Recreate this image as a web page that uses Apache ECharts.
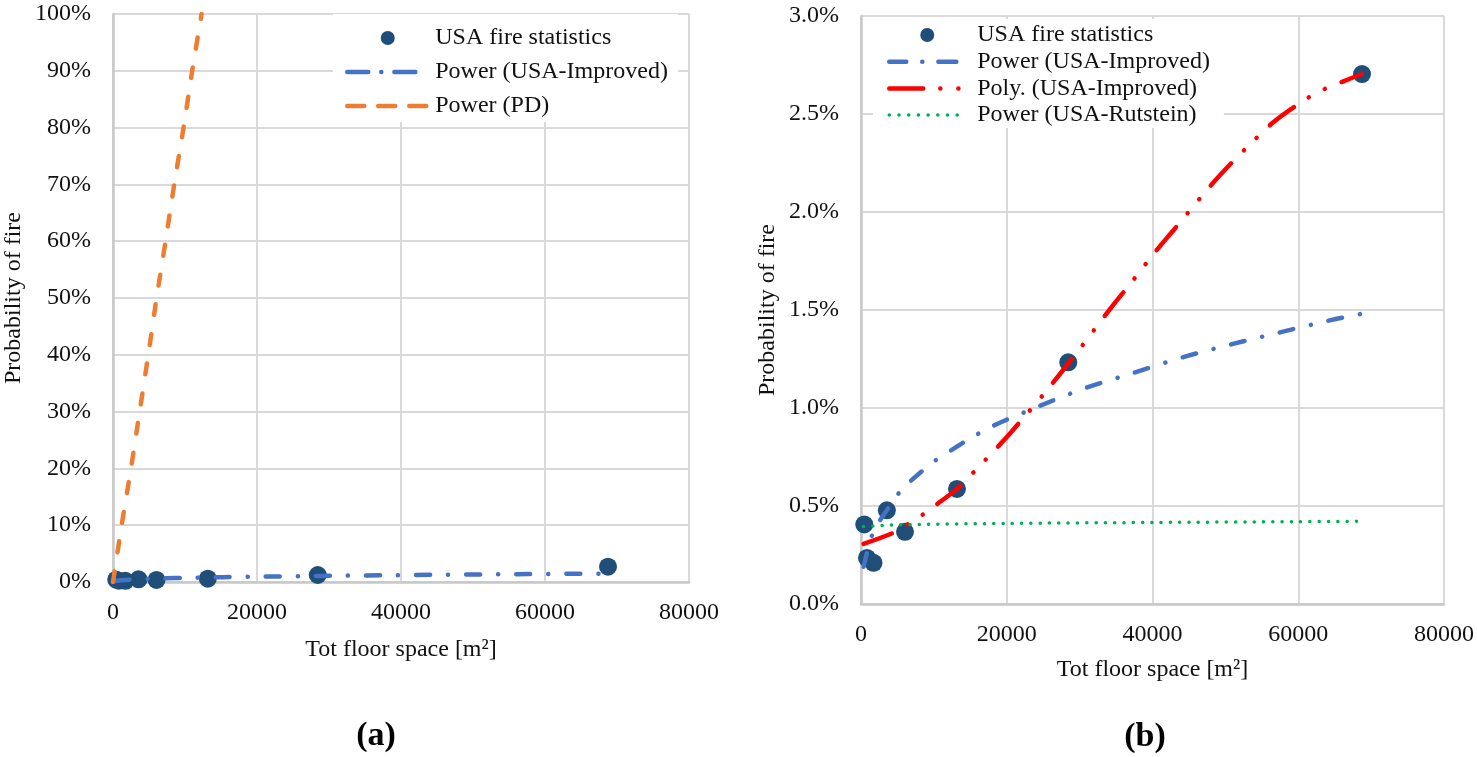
<!DOCTYPE html>
<html>
<head>
<meta charset="utf-8">
<script src="https://cdn.jsdelivr.net/npm/echarts@6/dist/echarts.min.js"></script>
<style>
html,body{margin:0;padding:0;background:#fff;}
#c{width:1477px;height:757px;}
</style>
</head>
<body>
<div id="c"></div>
<script>
// Data (x: total floor space m², y: probability of fire in %)
const fireX = [450, 820, 1720, 3545, 6040, 13170, 28440, 68750];
const fireY = [0.406, 0.235, 0.21, 0.478, 0.368, 0.587, 1.233, 2.704];

const powerImprovedX = [350, 1500, 2540, 3545, 5130, 6820, 10270, 12400, 15350, 17530, 19670, 26260, 31030, 37630, 44450, 51030, 57620, 64300, 68750];
const powerImprovedY = [0.19, 0.35, 0.423, 0.478, 0.563, 0.628, 0.734, 0.785, 0.853, 0.898, 0.935, 1.037, 1.105, 1.182, 1.262, 1.327, 1.387, 1.447, 1.481];

const polyImprovedX = [350, 4680, 6720, 8810, 10810, 13170, 16810, 18540, 20260, 21950, 24900, 29670, 34220, 37160, 40120, 43080, 47850, 50800, 53300, 56710, 60700, 62850, 68750];
const polyImprovedY = [0.307, 0.367, 0.415, 0.464, 0.52, 0.587, 0.725, 0.793, 0.862, 0.935, 1.063, 1.285, 1.507, 1.643, 1.785, 1.916, 2.129, 2.249, 2.342, 2.462, 2.567, 2.615, 2.704];

const powerRutsteinX = [350, 5000, 20000, 40000, 60000, 68750];
const powerRutsteinY = [0.395, 0.404, 0.411, 0.416, 0.42, 0.422];

const powerPDX = [0, 1200, 2500, 3700, 4900, 6050, 7300, 8500, 9800, 11000, 12300];
const powerPDY = [0, 10, 20, 30, 40, 50, 60, 70, 80, 90, 100];

const xTicks = [0, 20000, 40000, 60000, 80000];

const pairs = (xs, ys) => xs.map((x, i) => [x, ys[i]]);

const FONT = '"Liberation Serif", "Times New Roman", serif';
const TXT = '#111';
const GRIDC = '#d9d9d9';
const AXISC = '#c8c8c8';

const C_DOT = '#1f4e79';
const C_BLUE = '#4472c4';
const C_ORANGE = '#ed7d31';
const C_RED = '#ff0000';
const C_GREEN = '#00b050';

function xAxisDef(gridIndex, gap) {
  return {
    type: 'value', gridIndex, min: xTicks[0], max: xTicks[xTicks.length - 1], interval: 20000,
    name: 'Tot floor space [m²]', nameLocation: 'middle', nameGap: gap,
    nameTextStyle: { fontFamily: FONT, fontSize: 24, color: TXT },
    axisLine: { show: true, lineStyle: { color: AXISC, width: 2.5 } },
    axisTick: { show: false },
    axisLabel: { fontFamily: FONT, fontSize: 24, color: TXT, margin: 19, formatter: v => String(v) },
    splitLine: { show: true, lineStyle: { color: GRIDC, width: 2 } }
  };
}
function yAxisDef(gridIndex, max, interval, digits, gap) {
  return {
    type: 'value', gridIndex, min: 0, max, interval,
    name: 'Probability of fire', nameLocation: 'middle', nameGap: gap,
    nameTextStyle: { fontFamily: FONT, fontSize: 24, color: TXT },
    axisLine: { show: true, onZero: false, lineStyle: { color: AXISC, width: 2.5 } },
    axisTick: { show: false },
    axisLabel: { fontFamily: FONT, fontSize: 24, color: TXT, margin: 22,
      formatter: v => v.toFixed(digits) + '%' },
    splitLine: { show: true, lineStyle: { color: GRIDC, width: 2 } }
  };
}

const blueDash = [14, 18, 0.1, 18];
const redDash = [30, 18, 0.1, 18, 0.1, 18];
const greenDot = [0.1, 9.2];
const orangeDash = [11, 19];
const hiddenSym = { opacity: 0, color: 'rgba(0,0,0,0)', borderWidth: 0 };

const chart = echarts.init(document.getElementById('c'));
chart.setOption({
  animation: false,
  backgroundColor: '#fff',
  grid: [
    { left: 113, top: 14, width: 576, height: 568 },
    { left: 861, top: 16, width: 585, height: 588 }
  ],
  xAxis: [xAxisDef(0, 56), xAxisDef(1, 54)],
  yAxis: [yAxisDef(0, 100, 10, 0, 87), yAxisDef(1, 3, 0.5, 1, 81)],
  legend: [
    {
      left: 333, top: 14, orient: 'vertical', padding: [12, 10, 4, 12],
      backgroundColor: '#fff', itemWidth: 81, itemHeight: 14, itemGap: 10,
      selectedMode: false,
      textStyle: { fontFamily: FONT, fontSize: 24, color: TXT, padding: [0, 0, 0, 2] },
      data: [
        { name: 'USA fire statistics', icon: 'circle' },
        { name: 'Power (USA-Improved)', itemStyle: hiddenSym, lineStyle: { type: [21, 13, 0.1, 13, 21, 40], width: 4.5, cap: 'round' } },
        { name: 'Power (PD)', itemStyle: hiddenSym, lineStyle: { type: [17, 14], width: 4.5, cap: 'round' } }
      ]
    },
    {
      left: 873, top: 19, orient: 'vertical', padding: [4, 14, 1, 14],
      backgroundColor: '#fff', itemWidth: 76, itemHeight: 14, itemGap: 2.7,
      selectedMode: false,
      textStyle: { fontFamily: FONT, fontSize: 24, color: TXT, padding: [0, 0, 0, 7] },
      data: [
        { name: 'USA fire statistics', icon: 'circle' },
        { name: 'Power (USA-Improved)', itemStyle: hiddenSym, lineStyle: { type: [17, 16, 0.1, 16, 18, 40], width: 4.5, cap: 'round' } },
        { name: 'Poly. (USA-Improved)', itemStyle: hiddenSym, lineStyle: { type: [34, 17, 0.1, 18, 0.1, 40], width: 4.5, cap: 'round' } },
        { name: 'Power (USA-Rutstein)', itemStyle: hiddenSym, lineStyle: { type: [0.1, 9.6], width: 3.5, cap: 'round' } }
      ]
    }
  ],
  graphic: [
    { type: 'text', x: 376, y: 736, style: { text: '(a)', font: 'bold 34px "Liberation Serif"', fill: '#000', textAlign: 'center', textVerticalAlign: 'middle' } },
    { type: 'text', x: 1145, y: 737, style: { text: '(b)', font: 'bold 34px "Liberation Serif"', fill: '#000', textAlign: 'center', textVerticalAlign: 'middle' } }
  ],
  series: [
    // left chart
    { name: 'USA fire statistics', type: 'scatter', xAxisIndex: 0, yAxisIndex: 0,
      data: pairs(fireX, fireY), symbolSize: 18, itemStyle: { color: C_DOT, opacity: 1 } },
    { name: 'Power (USA-Improved)', type: 'line', xAxisIndex: 0, yAxisIndex: 0,
      data: pairs(powerImprovedX, powerImprovedY), smooth: 0.3, symbol: 'none',
      lineStyle: { color: C_BLUE, width: 4.5, type: blueDash, cap: 'round' }, itemStyle: { color: C_BLUE } },
    { name: 'Power (PD)', type: 'line', xAxisIndex: 0, yAxisIndex: 0,
      data: pairs(powerPDX, powerPDY), smooth: 0.2, symbol: 'none',
      lineStyle: { color: C_ORANGE, width: 4.5, type: orangeDash, cap: 'round' }, itemStyle: { color: C_ORANGE } },
    // right chart
    { name: 'USA fire statistics', type: 'scatter', xAxisIndex: 1, yAxisIndex: 1,
      data: pairs(fireX, fireY), symbolSize: 18, itemStyle: { color: C_DOT, opacity: 1 } },
    { name: 'Power (USA-Improved)', type: 'line', xAxisIndex: 1, yAxisIndex: 1,
      data: pairs(powerImprovedX, powerImprovedY), smooth: 0.3, symbol: 'none',
      lineStyle: { color: C_BLUE, width: 4.5, type: blueDash, cap: 'round' }, itemStyle: { color: C_BLUE } },
    { name: 'Poly. (USA-Improved)', type: 'line', xAxisIndex: 1, yAxisIndex: 1,
      data: pairs(polyImprovedX, polyImprovedY), smooth: 0.3, symbol: 'none',
      lineStyle: { color: C_RED, width: 4.5, type: redDash, cap: 'round' }, itemStyle: { color: C_RED } },
    { name: 'Power (USA-Rutstein)', type: 'line', xAxisIndex: 1, yAxisIndex: 1,
      data: pairs(powerRutsteinX, powerRutsteinY), smooth: 0.3, symbol: 'none',
      lineStyle: { color: C_GREEN, width: 3.5, type: greenDot, cap: 'round' }, itemStyle: { color: C_GREEN } }
  ]
});
</script>
</body>
</html>
